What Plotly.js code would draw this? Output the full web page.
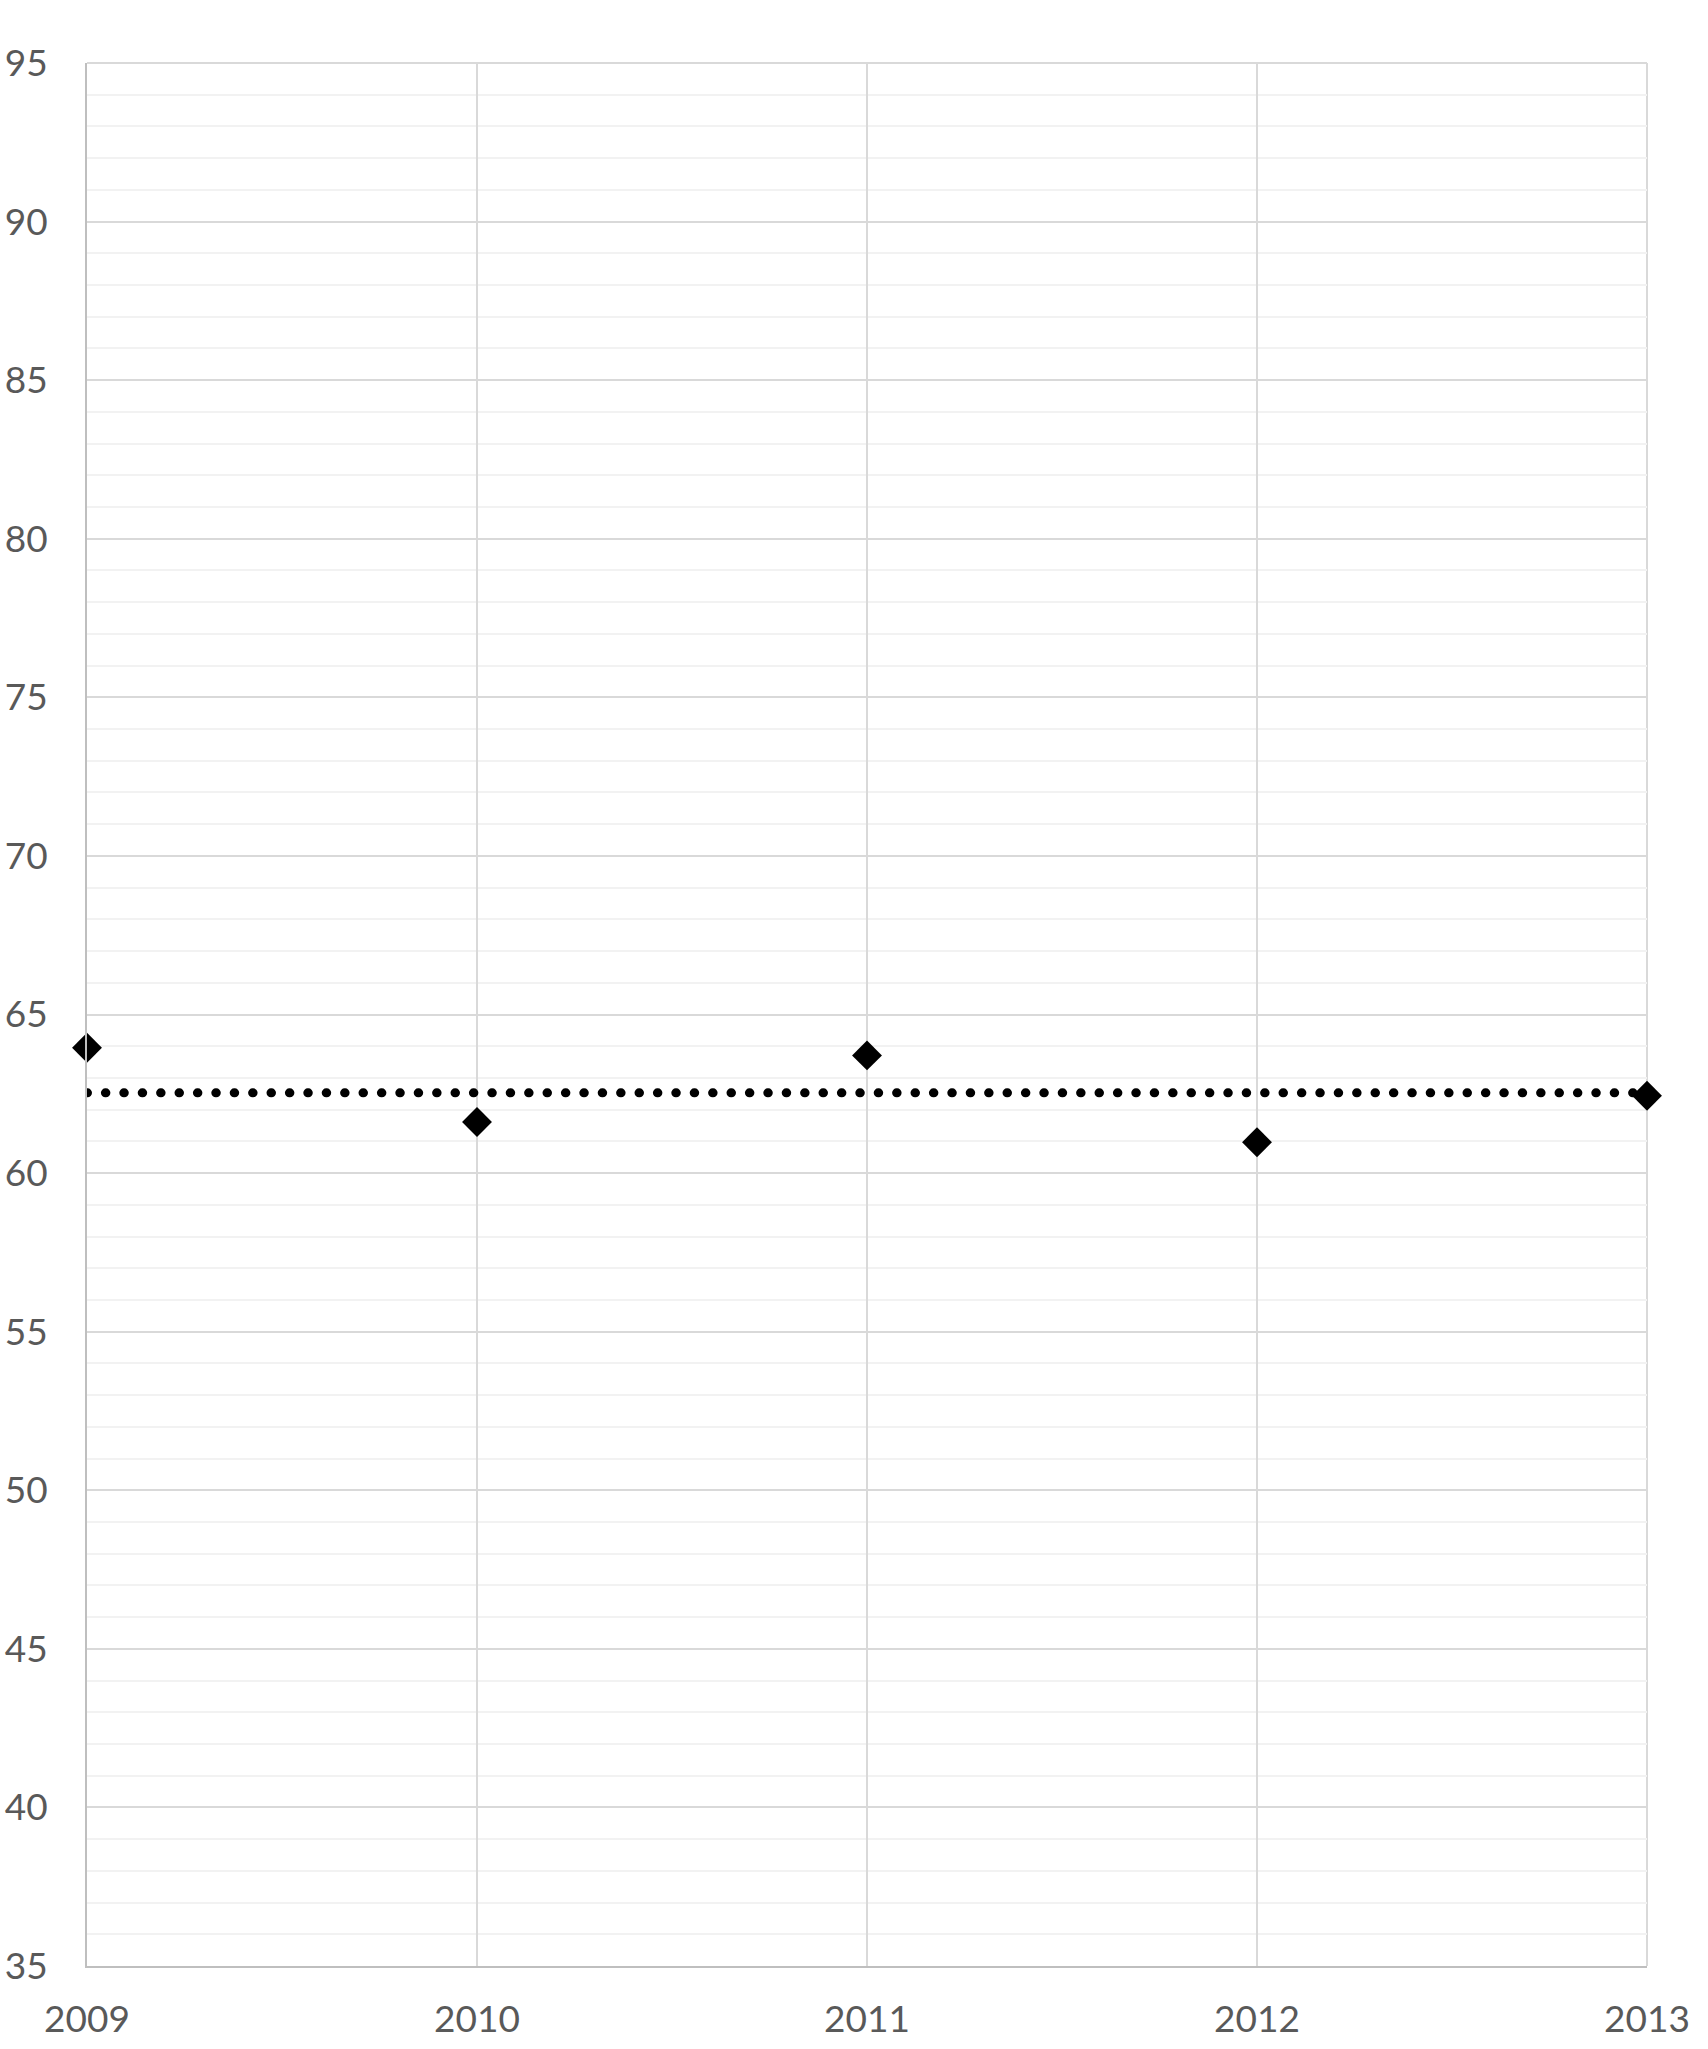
<!DOCTYPE html>
<html>
<head>
<meta charset="utf-8">
<script src="https://cdn.plot.ly/plotly-3.0.1.min.js"></script>
<style>
  html, body { margin: 0; padding: 0; background: #ffffff; }
  #chart { width: 1708px; height: 2049px; }
</style>
</head>
<body>
<div id="chart"></div>
<script>
// values
const years = [2009, 2010, 2011, 2012, 2013];
const values = [63.95, 61.61, 63.71, 60.97, 62.44];
const averageLine = [62.53, 62.53];
const averageYears = [2009, 2013];

const textColor = '#595959';
const gridColor = '#d9d9d9';

const traces = [
    {
        x: averageYears,
        y: averageLine,
        mode: 'lines',
        line: { color: '#000000', width: 9, dash: '0.5px,17.9px' },
        cliponaxis: false,
        hoverinfo: 'skip',
        showlegend: false
    },
    {
        x: years,
        y: values,
        mode: 'markers',
        marker: { symbol: 'diamond', size: 23, color: '#000000' },
        cliponaxis: false,
        showlegend: false
    }
];

const layout = {
    width: 1708,
    height: 2049,
    paper_bgcolor: '#ffffff',
    plot_bgcolor: '#ffffff',
    font: { family: 'Lato, "Open Sans", sans-serif', size: 37, color: textColor },
    margin: { l: 87, r: 61, t: 63, b: 83 },
    showlegend: false,
    xaxis: {
        range: [2009, 2013],
        tickvals: years,
        ticktext: years.map(String),
        showgrid: true,
        gridcolor: gridColor,
        gridwidth: 2,
        zeroline: false,
        showline: true,
        linecolor: '#bfbfbf',
        linewidth: 2,
        ticks: '',
        ticklabelstandoff: 20,
        tickfont: { size: 37, color: textColor },
        fixedrange: true
    },
    yaxis: {
        range: [35, 95],
        dtick: 5,
        tick0: 35,
        showgrid: true,
        gridcolor: gridColor,
        gridwidth: 2,
        zeroline: false,
        showline: true,
        linecolor: '#bfbfbf',
        linewidth: 2,
        ticks: '',
        ticklabelstandoff: 30,
        tickfont: { size: 37, color: textColor },
        minor: { dtick: 1, showgrid: true, gridcolor: '#f2f2f2', gridwidth: 2 },
        fixedrange: true
    },
    // top and right edges of the plot area are drawn like gridlines
    shapes: [
        { type: 'line', xref: 'paper', yref: 'paper', x0: 0, x1: 1, y0: 1, y1: 1,
          line: { color: gridColor, width: 2 }, layer: 'below' },
        { type: 'line', xref: 'paper', yref: 'paper', x0: 1, x1: 1, y0: 0, y1: 1,
          line: { color: gridColor, width: 2 }, layer: 'below' }
    ]
};

const config = { displayModeBar: false, staticPlot: true };

Plotly.newPlot('chart', traces, layout, config).then(() => {
    // round dots for the average line
    document.querySelectorAll('#chart .scatterlayer .js-line').forEach(p => {
        p.style.strokeLinecap = 'round';
    });
});
</script>
</body>
</html>
